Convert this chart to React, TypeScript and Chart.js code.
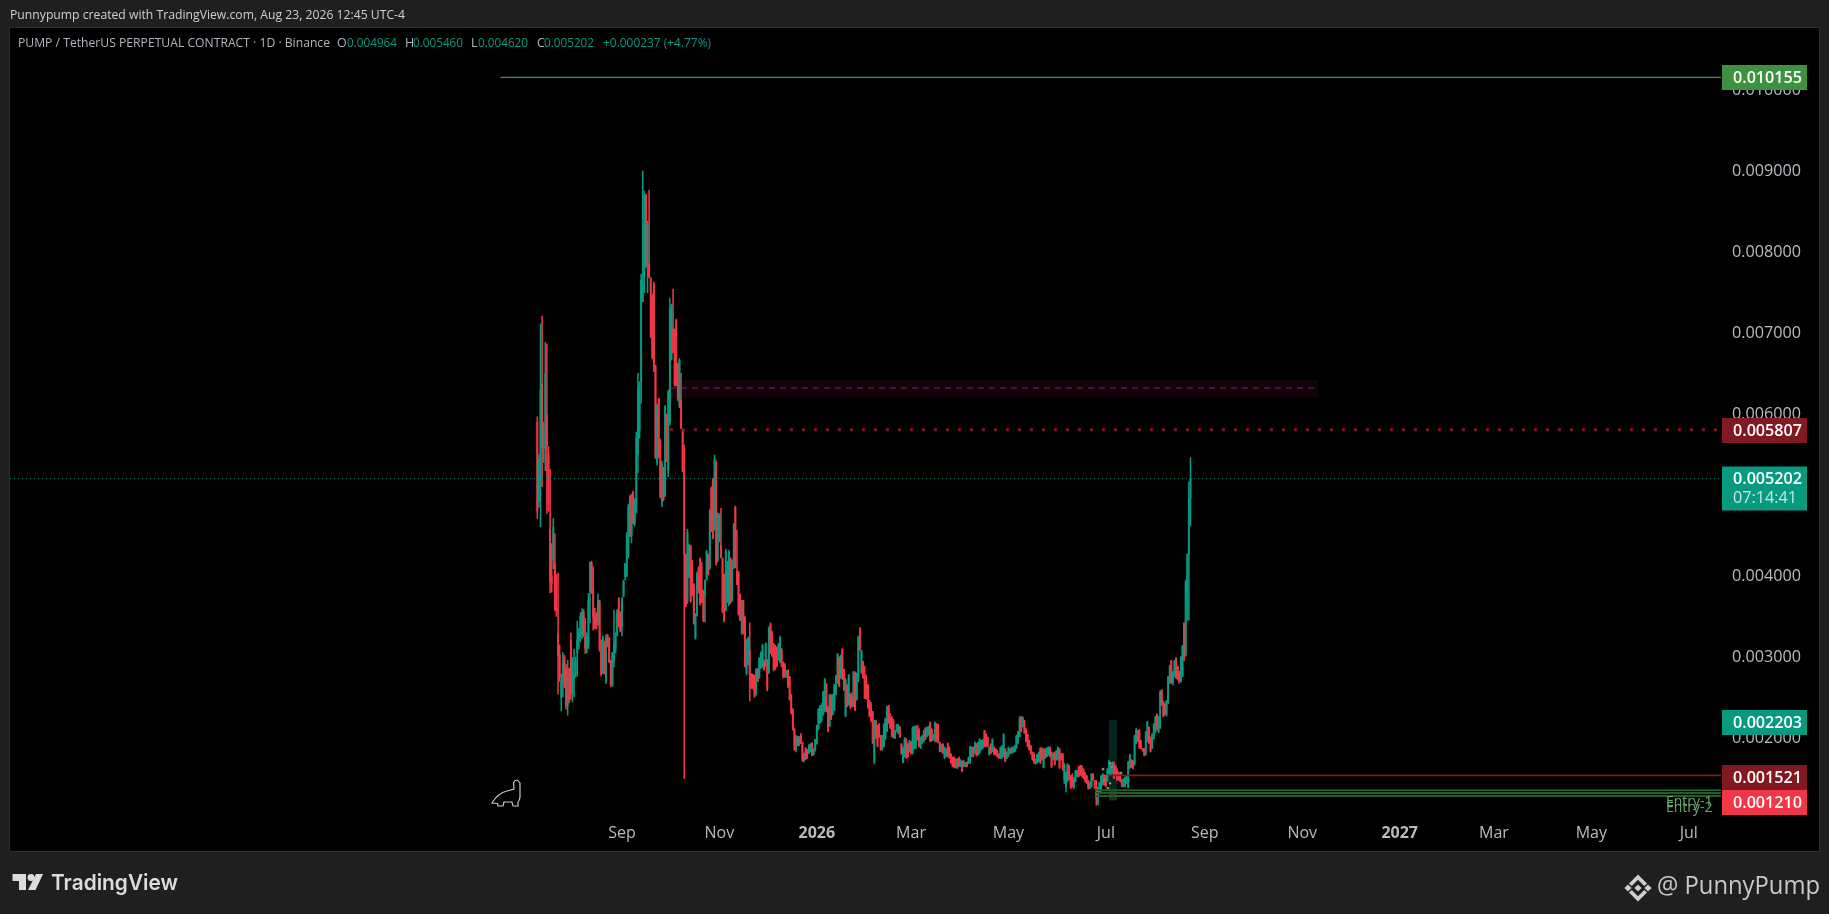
import React, { useEffect, useRef } from "react";
import Chart from "chart.js/auto";

// Prices below are in millionths of USDT.
const MICRO = 1e-6;
const FIRST_DAY = -53; // candles start 53 days before 1 Sep 2025

const opens = [
  5900,4916,5100,6370,5583,5600,5987,5500,4579,4000, 4200,4155,3600,3282,3020,2500,2700,3000,2850,2400,
  2850,3200,2550,2730,2796,3051,3214,3250,3280,3550, 3249,3105,3150,3817,4150,3846,3490,3540,3400,3690,
  3190,2800,3190,2700,3270,3230,2950,2660,2960,3100, 3270,3720,3540,3384,3750,3990,4000,4250,4980,4500,
  5030,4650,4800,5500,5793,6400,7386,7700,8700,7830, 7852,7670,7450,7600,6590,5400,6180,5670,4900,5330,
  5000,5980,5300,5900,6680,7049,7040,7150,6610,6100, 6172,5810,5300,4250,3700,4000,4370,4180,3890,3240,
  3520,4100,4210,3838,3810,3764,3960,4260,4100,5080, 5190,4600,5400,4200,4440,4381,4210,4010,3580,3690,
  3650,4210,3700,4110,4850,4060,4040,3760,3300,3690, 3490,2800,2920,3080,2790,2780,2760,2550,2850,2750,
  2870,2880,2950,2890,2950,2810,3400,3300,3150,3130, 3110,2970,2940,3090,2930,2900,2760,2830,2750,2530,
  2350,2110,1845,2010,1910,2040,1945,1715,1870,1850, 1820,1840,1930,1795,1850,1935,2115,2190,2220,2300,
  2340,2660,2380,2150,2520,2300,2350,2540,2690,2990, 2750,3090,2840,2280,2650,2420,2540,2500,2400,2800,
  2480,2710,3350,2810,2940,2747,2700,2650,2455,2400, 2320,1700,2210,2150,2170,2025,1870,1900,2000,2090,
  2395,2290,2250,2200,2000,2085,2060,2135,1925,1700, 1780,1980,1930,1840,1950,1820,1880,1890,2145,2100,
  1880,1940,1960,2120,2020,2040,2190,2090,1980,1970, 2170,2160,1940,1840,1920,1760,1780,1930,1880,1800,
  1760,1755,1740,1635,1755,1650,1700,1650,1650,1700, 1690,1690,1775,1880,1820,1920,1800,1825,1860,1890,
  2090,2045,2000,1800,1920,1840,1880,1860,1840,1800, 1760,1770,1790,1860,1760,1780,1860,1820,1830,1840,
  1880,1940,2020,2260,2140,2210,2110,2040,1970,1900, 1820,1805,1690,1695,1715,1870,1860,1640,1855,1770,
  1800,1880,1820,1740,1810,1740,1740,1860,1800,1800, 1480,1400,1475,1660,1530,1540,1395,1470,1530,1640,
  1650,1640,1610,1570,1530,1465,1380,1410,1550,1470, 1314,1190,1360,1360,1430,1540,1530,1470,1550,1550,
  1570,1695,1655,1610,1570,1550,1470,1405,1405,1440, 1390,1640,1720,1710,1680,1940,2090,2090,1960,1868,
  1865,1800,1960,2130,2010,1880,1995,2075,2290,2080, 2125,2590,2450,2420,2290,2440,2690,2950,2690,2770,
  2980,2880,2820,2700,2760,3420,3030,3755,4270,4964,
];
const highs = [
  5966,5500,7111,7209,5900,6884,6864,5600,5320,4400, 4710,4525,4020,4035,3150,2788,3055,3022,2911,2961,
  2862,3294,2994,3097,3000,3442,3350,3549,3599,3586, 3479,3300,3784,4171,4183,4113,3600,3554,3776,3702,
  3208,3257,3199,3278,3278,3241,2961,3059,3578,3300, 3586,3735,3558,3731,3949,4155,4537,4887,4999,5011,
  5048,4957,5777,6501,6400,7728,9000,8753,8716,8383, 8765,7683,7481,7629,6604,6122,6197,5690,5418,5344,
  6106,5999,6295,7427,7357,7543,7049,7172,6625,6686, 6501,5822,5616,4270,4579,4393,4381,4196,3908,3537,
  4048,4114,4220,4167,3825,3949,4319,4270,4826,5102, 5209,5493,5419,4780,4772,4834,4225,4023,4332,4183,
  4319,4225,4204,4649,4863,4566,4060,3776,3702,3702, 3504,3220,3249,3422,2796,2790,2775,2858,2858,2994,
  3064,3158,2961,3175,2969,3372,3422,3319,3167,3146, 3126,3167,3257,3105,2940,2920,2837,2845,2763,2541,
  2364,2117,2034,2022,2020,2055,1952,1816,1882,1858, 1919,1932,1944,1870,1985,2158,2364,2405,2426,2578,
  2735,2673,2393,2541,2537,2541,2664,2776,3043,3002, 3023,3105,2850,2735,2664,2784,2549,2560,2825,2817,
  2804,3257,3364,3084,2949,2887,2780,2664,2467,2440, 2331,2220,2220,2158,2179,2035,2035,2179,2250,2393,
  2405,2302,2261,2230,2096,2171,2171,2146,1932,1891, 2006,1993,1932,1973,1960,2138,2146,2146,2158,2117,
  2014,2034,2096,2129,2138,2146,2199,2117,2047,2199, 2179,2170,1952,1923,1932,1891,1870,1940,1891,1808,
  1767,1767,1746,1746,1767,1734,1718,1726,1697,1705, 1767,1899,1891,1891,1952,1932,1952,1993,1973,1981,
  2096,2055,2014,1891,1932,1993,1891,1870,1849,1808, 1891,1911,2055,1870,1829,1891,1870,1891,1891,1911,
  2035,2084,2261,2269,2261,2220,2117,2047,1973,1911, 1829,1816,1746,1800,1829,1882,1882,1870,1870,1882,
  1891,1891,1829,1816,1829,1849,1891,1870,1810,1808, 1685,1582,1685,1664,1540,1561,1512,1602,1602,1652,
  1664,1664,1623,1577,1540,1479,1458,1561,1561,1478, 1478,1396,1458,1540,1561,1549,1540,1623,1726,1684,
  1705,1705,1664,1623,1582,1561,1487,1499,1520,1540, 1713,1800,1738,1726,2034,2121,2096,2109,1973,1870,
  1870,2084,2208,2137,2014,2055,2179,2269,2302,2269, 2582,2598,2454,2425,2467,2763,2899,2961,2825,2961,
  2994,2887,2825,3010,3146,3422,3949,4270,5163,5460,
];
const lows = [
  4710,4850,4607,5102,5400,5299,4772,4800,3792,3800, 4089,3578,3500,2541,2700,2335,2508,2619,2355,2281,
  2434,2479,2446,2508,2750,2763,3100,3187,3228,3249, 3043,3050,3105,3422,3784,3331,3350,3344,3393,3072,
  2763,2796,2788,2672,3125,2928,2631,2640,2878,3050, 3257,3372,3311,3261,3743,3950,3990,4225,4484,4410,
  4640,4616,4780,5274,5700,6130,7386,7497,7806,7497, 7683,6942,6678,6522,5451,5369,5460,4965,4854,4928,
  4978,5410,5225,5863,6666,6756,6345,6345,6160,6077, 5822,5287,1500,3619,3661,3978,3677,3755,3405,3220,
  3504,3792,3640,3673,3434,3434,3949,4011,4081,4546, 4455,4566,4134,4175,4422,4225,3545,3434,3566,3673,
  3632,3661,3689,4093,4101,3895,3517,3447,3278,3282, 2878,2776,2899,2459,2611,2600,2500,2529,2693,2734,
  2858,2870,2837,2878,2582,2796,3043,3002,2829,2845, 2878,2961,2928,2878,2742,2745,2747,2623,2467,2294,
  2096,1849,1829,1903,1903,1931,1713,1705,1734,1745, 1808,1829,1779,1787,1837,1923,2104,2179,2199,2282,
  2323,2323,2076,2138,2228,2282,2335,2529,2673,2632, 2734,2722,2582,2261,2385,2405,2364,2380,2385,2335,
  2467,2693,3076,2796,2735,2487,2480,2364,2261,2200, 1932,1685,1993,1891,2006,1849,1849,1890,1980,2076,
  2179,2117,2014,2000,1993,2076,2055,2006,1800,1693, 1767,1746,1760,1829,1800,1800,1870,1870,1973,1890,
  1870,1932,1952,1981,2014,2034,1952,1960,1973,1952, 1952,1940,1829,1829,1808,1746,1767,1767,1750,1685,
  1644,1631,1631,1623,1644,1645,1582,1644,1644,1644, 1685,1685,1767,1767,1808,1775,1788,1808,1849,1870,
  1890,1890,1890,1788,1808,1829,1788,1790,1767,1746, 1746,1746,1767,1705,1746,1767,1808,1808,1816,1829,
  1870,1932,2014,2076,2138,2055,1952,1890,1849,1800, 1726,1685,1676,1685,1705,1685,1726,1631,1746,1767,
  1788,1767,1635,1726,1664,1726,1726,1623,1726,1602, 1438,1335,1458,1480,1376,1397,1376,1458,1520,1520,
  1540,1520,1499,1458,1437,1367,1376,1396,1478,1376, 1170,1170,1335,1335,1417,1417,1396,1458,1540,1540,
  1561,1499,1540,1478,1478,1458,1396,1396,1396,1437, 1384,1623,1635,1620,1664,1931,1955,1870,1870,1836,
  1779,1787,1952,1931,1829,1870,1985,2063,2096,2063, 2117,2405,2261,2282,2269,2425,2673,2673,2652,2755,
  2734,2714,2673,2693,2755,2953,3010,3455,3455,4620,
];
const closes = [
  4800,5443,6300,5583,5800,6500,5616,4900,3928,3900, 4600,3578,3550,3022,2750,2700,2950,2650,2400,2800,
  2450,2550,2950,2796,2950,3214,3300,3500,3550,3280, 3105,3250,3700,4171,3800,3488,3400,3360,3700,3100,
  2790,3240,2800,3250,3130,2940,2660,3050,3166,3250, 3570,3380,3320,3731,3930,4155,4500,4850,4500,4950,
  4650,4930,5700,6300,6378,7650,7728,8700,7830,8350, 7683,6960,6700,6560,5470,6100,5470,4980,5380,4940,
  6080,5420,6270,7300,7340,6756,6360,6360,6180,6660, 5822,5300,4270,3640,4540,4380,3690,3770,3420,3520,
  4030,3800,3650,3673,3450,3949,4300,4020,4800,4560, 4470,5450,4150,4750,4760,4225,3560,3450,4300,4170,
  4300,3680,4190,4630,4120,3895,3530,3460,3690,3300, 2890,3200,3230,2780,2620,2620,2520,2840,2700,2980,
  3050,3140,2850,3160,2600,3350,3060,3020,2840,2860, 2890,3150,3240,2890,2760,2780,2830,2640,2480,2310,
  2110,1860,2020,1910,2005,1940,1725,1805,1745,1760, 1905,1920,1790,1860,1975,2150,2350,2390,2320,2560,
  2720,2340,2090,2530,2240,2520,2650,2760,3030,2650, 3010,2735,2600,2720,2400,2770,2380,2400,2810,2350,
  2790,3240,3090,3070,2750,2487,2500,2380,2275,2220, 1945,2200,2005,1900,2015,1860,2020,2165,2230,2380,
  2190,2130,2025,2010,2085,2160,2150,2015,1810,1880, 1995,1760,1770,1960,1820,2120,2130,2050,1985,1900,
  2000,2020,2080,1990,2125,2135,1965,1975,2040,2185, 1965,1950,1840,1915,1815,1880,1860,1780,1765,1695,
  1655,1640,1645,1735,1655,1725,1595,1715,1690,1655, 1755,1880,1880,1775,1940,1785,1940,1980,1960,1970,
  1900,1900,1905,1880,1820,1980,1800,1800,1775,1755, 1880,1890,2040,1715,1820,1880,1815,1880,1880,1900,
  2020,2070,2240,2090,2250,2070,1965,1905,1860,1815, 1740,1695,1735,1790,1820,1700,1740,1860,1755,1870,
  1880,1780,1650,1805,1680,1835,1880,1640,1740,1615, 1670,1570,1670,1495,1390,1410,1500,1590,1590,1530,
  1555,1535,1510,1470,1450,1380,1450,1550,1490,1390, 1252,1380,1440,1525,1550,1430,1410,1610,1715,1670,
  1695,1510,1550,1490,1490,1470,1405,1490,1510,1530, 1700,1785,1645,1640,2020,2100,1965,1880,1875,1845,
  1790,2070,2195,1945,1840,2040,2165,2255,2110,2255, 2570,2420,2270,2290,2450,2750,2885,2690,2810,2950,
  2745,2725,2690,2995,3130,2970,3930,4270,4964,5202,
];

// Axes
const priceTicks = [0.002, 0.003, 0.004, 0.005, 0.006, 0.007, 0.008, 0.009, 0.01];
const monthTickDays = [0, 61, 122, 181, 242, 303, 365, 426, 487, 546, 607, 668];
const monthTickLabels = ["Sep", "Nov", "2026", "Mar", "May", "Jul", "Sep", "Nov", "2027", "Mar", "May", "Jul"];
const X_MIN = -383.2;
const X_MAX = 688.2;
const Y_MIN = 0.000988;
const Y_MAX = 0.010765;

// Price levels drawn on the chart: [price, firstDay, lastDay]
const targetLevel = [0.010155, -76, X_MAX];
const lastPriceLevel = [0.005202, X_MIN, X_MAX];
const dottedResistance = [0.005807, 30, X_MAX];
const dashedZoneMid = [0.00632, 30, 436];
const zoneBand = [0.00642, 0.00621, 31, 436];
const stopLevel = [0.00154, 304, X_MAX];
const entryLevels = [0.001358, 0.001321, 0.001284];
const ENTRY_FIRST_DAY = 296;
const positionBox = [0.00222, 0.00135, 305, 310];
const positionBoxLower = [0.00135, 0.00123, 305, 310];
const purpleTick = [0.00132, 299, 303];
const markerDays = [301.2, 305.6, 306.8, 312.5, 305.6, 304.3, 301.8];
const markerPrices = [0.001615, 0.001689, 0.00164, 0.001565, 0.001441, 0.00138, 0.001479];

// Price tags on the axis
const tagPrices = [0.010155, 0.005807, 0.002203, 0.001521, 0.00121];
const tagColors = ["#3d923f", "#801922", "#089981", "#801922", "#f23645"];
const LAST_PRICE = 0.005202;
const COUNTDOWN = "07:14:41";

const UP = "#089981";
const DOWN = "#f23645";
const FONT = '"Open Sans", "Noto Sans", sans-serif';

const hLine = (lvl: number[], color: string, width: number, dash: number[], order = 1) => ({
  type: "line" as const,
  data: [{ x: lvl[1], y: lvl[0] }, { x: lvl[2], y: lvl[0] }],
  borderColor: color,
  borderWidth: width,
  borderDash: dash,
  pointRadius: 0,
  fill: false,
  order,
});

const bandFill = (top: number, bottom: number, from: number, to: number, color: string, order = 9) => ({
  type: "line" as const,
  data: [{ x: from, y: top }, { x: to, y: top }],
  borderWidth: 0,
  pointRadius: 0,
  fill: { value: bottom },
  backgroundColor: color,
  order,
});

const chrome = {
  id: "chrome",
  beforeDraw(chart: any) {
    const { ctx, width, height } = chart;
    ctx.save();
    ctx.fillStyle = "#1f1f1f";
    ctx.fillRect(0, 0, width, height);
    ctx.fillStyle = "#000000";
    ctx.fillRect(10, 28, 1809, 823);
    ctx.strokeStyle = "#2e2e2e";
    ctx.lineWidth = 1;
    ctx.strokeRect(9.5, 27.5, 1810, 824);
    ctx.restore();
  },
  afterDraw(chart: any) {
    const { ctx } = chart;
    const yS = chart.scales.y;
    ctx.save();
    ctx.textBaseline = "middle";
    ctx.textAlign = "left";

    // header
    ctx.font = `12.5px ${FONT}`;
    ctx.fillStyle = "#cfcfcf";
    ctx.fillText("Punnypump created with TradingView.com, Aug 23, 2026 12:45 UTC-4", 10, 15, 395);

    // legend
    ctx.fillStyle = "#b2b5be";
    ctx.fillText("PUMP / TetherUS PERPETUAL CONTRACT · 1D · Binance", 18, 43.5, 312);
    ctx.fillText("O", 337, 43.5);
    ctx.fillText("H", 405, 43.5);
    ctx.fillText("L", 471, 43.5);
    ctx.fillText("C", 537, 43.5);
    ctx.fillStyle = UP;
    ctx.fillText("0.004964", 347, 43.5, 50);
    ctx.fillText("0.005460", 413, 43.5, 50);
    ctx.fillText("0.004620", 478, 43.5, 50);
    ctx.fillText("0.005202", 544, 43.5, 50);
    ctx.fillText("+0.000237 (+4.77%)", 603, 43.5, 108);

    // axis tags
    const tag = (p: number, color: string) => {
      const y = yS.getPixelForValue(p);
      ctx.fillStyle = color;
      ctx.fillRect(1722, Math.round(y) - 12, 85, 25);
      ctx.font = `600 16.6px ${FONT}`;
      ctx.fillStyle = "#ffffff";
      ctx.fillText(p.toFixed(6), 1733, y + 1.2, 69);
    };
    const ly = yS.getPixelForValue(LAST_PRICE);
    ctx.fillStyle = UP;
    ctx.fillRect(1722, Math.round(ly) - 12.5, 85, 44);
    ctx.font = `600 16.6px ${FONT}`;
    ctx.fillStyle = "#ffffff";
    ctx.fillText(LAST_PRICE.toFixed(6), 1733, ly + 0.5, 69);
    ctx.font = `500 16.2px ${FONT}`;
    ctx.fillStyle = "#c4e8e0";
    ctx.fillText(COUNTDOWN, 1733, ly + 20, 65);
    tagPrices.forEach((p, i) => tag(p, tagColors[i]));

    // entry labels
    ctx.font = `14px ${FONT}`;
    ctx.fillStyle = "#6aa86e";
    ctx.fillText("Entry-1", 1666, 802, 47);
    ctx.fillText("Entry-2", 1666, 808, 47);

    // dinosaur
    ctx.strokeStyle = "#c8c8c8";
    ctx.lineWidth = 1.2;
    ctx.beginPath();
    ctx.moveTo(492, 803);
    ctx.quadraticCurveTo(498, 793, 507, 791);
    ctx.lineTo(514, 789);
    ctx.lineTo(513.5, 783);
    ctx.quadraticCurveTo(516, 777, 520, 783);
    ctx.lineTo(520, 797);
    ctx.quadraticCurveTo(519.5, 801, 518, 802);
    ctx.lineTo(518, 806);
    ctx.lineTo(513, 806);
    ctx.lineTo(512, 802);
    ctx.lineTo(504, 802);
    ctx.lineTo(503, 806);
    ctx.lineTo(498, 806);
    ctx.lineTo(497.5, 803.5);
    ctx.closePath();
    ctx.stroke();

    // TradingView logo
    ctx.fillStyle = "#dcdcdc";
    ctx.beginPath();
    ctx.moveTo(12.5, 874);
    ctx.lineTo(26, 874);
    ctx.lineTo(26, 890);
    ctx.lineTo(19, 890);
    ctx.lineTo(19, 881);
    ctx.lineTo(12.5, 881);
    ctx.closePath();
    ctx.fill();
    ctx.beginPath();
    ctx.arc(31, 877.6, 3.5, 0, Math.PI * 2);
    ctx.fill();
    ctx.beginPath();
    ctx.moveTo(36, 874);
    ctx.lineTo(43, 874);
    ctx.lineTo(35.5, 890);
    ctx.lineTo(28, 890);
    ctx.closePath();
    ctx.fill();
    ctx.font = `600 22px Inter, ${FONT}`;
    ctx.fillText("TradingView", 51, 883, 127);

    // Binance mark and handle
    const diamond = (cx: number, cy: number, r: number) => {
      ctx.beginPath();
      ctx.moveTo(cx, cy - r);
      ctx.lineTo(cx + r, cy);
      ctx.lineTo(cx, cy + r);
      ctx.lineTo(cx - r, cy);
      ctx.closePath();
      ctx.fill();
    };
    const chevron = (cx: number, cy: number, dir: number) => {
      ctx.beginPath();
      ctx.moveTo(cx - 9, cy - dir * 5);
      ctx.lineTo(cx, cy - dir * 14);
      ctx.lineTo(cx + 9, cy - dir * 5);
      ctx.lineTo(cx + 6.2, cy - dir * 2.6);
      ctx.lineTo(cx, cy - dir * 8.8);
      ctx.lineTo(cx - 6.2, cy - dir * 2.6);
      ctx.closePath();
      ctx.fill();
    };
    ctx.fillStyle = "#cfcfcf";
    diamond(1638, 888, 3.6);
    diamond(1628, 888, 3.6);
    diamond(1648, 888, 3.6);
    chevron(1638, 888.5, 1);
    chevron(1638, 887.5, -1);
    ctx.font = `25px ${FONT}`;
    ctx.fillStyle = "#c9c9c9";
    ctx.fillText("@ PunnyPump", 1657, 887, 163);
    ctx.restore();
  },
};

export default function App() {
  const ref = useRef<HTMLCanvasElement | null>(null);
  useEffect(() => {
    document.body.style.margin = "0";
    document.body.style.background = "#1f1f1f";
    if (!ref.current) return;
    const dayOf = (i: number) => FIRST_DAY + i;
    const colors = opens.map((o, i) => (closes[i] >= o ? UP : DOWN));
    const chart = new Chart(ref.current, {
      type: "bar",
      data: {
        datasets: [
          hLine(targetLevel, "#3d923f", 1.4, []),
          hLine(lastPriceLevel, UP, 1, [1, 3]),
          hLine(dottedResistance, "#801922", 3, [3, 9]),
          hLine(dashedZoneMid, "#94258f", 0.9, [6, 5]),
          hLine(stopLevel, "#801922", 1.8, []),
          ...entryLevels.map((p) => hLine([p, ENTRY_FIRST_DAY, X_MAX], "#1d5f24", 1.8, [])),
          hLine(purpleTick, "#8e24aa", 1, []),
          {
            type: "scatter" as const,
            data: markerDays.map((x, i) => ({ x, y: markerPrices[i] })),
            backgroundColor: "#8c8c8c",
            pointRadius: 1.4,
            showLine: false,
            order: 2,
          },
          {
            type: "bar" as const,
            data: opens.map((o, i) => ({
              x: dayOf(i),
              y: [Math.min(o, closes[i]) * MICRO, Math.max(o, closes[i]) * MICRO],
            })),
            backgroundColor: colors,
            barThickness: 1.3,
            grouped: false,
            order: 4,
          },
          {
            type: "bar" as const,
            data: highs.map((h, i) => ({ x: dayOf(i), y: [lows[i] * MICRO, h * MICRO] })),
            backgroundColor: colors,
            barThickness: 0.9,
            grouped: false,
            order: 5,
          },
          bandFill(zoneBand[0], zoneBand[1], zoneBand[2], zoneBand[3], "#120308"),
          bandFill(positionBox[0], positionBox[1], positionBox[2], positionBox[3], "#04241e"),
          bandFill(positionBoxLower[0], positionBoxLower[1], positionBoxLower[2], positionBoxLower[3], "#2b2b2b"),
        ],
      } as any,
      plugins: [chrome],
      options: {
        animation: false,
        responsive: false,
        events: [],
        layout: { padding: { left: 10, top: 28, right: 10, bottom: 64 } },
        plugins: { legend: { display: false }, tooltip: { enabled: false }, title: { display: false } },
        scales: {
          x: {
            type: "linear",
            min: X_MIN,
            max: X_MAX,
            offset: false,
            grid: { display: false, drawTicks: false },
            border: { display: false },
            afterFit(scale: any) {
              scale.height = 30;
            },
            afterBuildTicks(scale: any) {
              scale.ticks = monthTickDays.map((value) => ({ value }));
            },
            ticks: {
              autoSkip: false,
              maxRotation: 0,
              padding: 4,
              color: "#b8bbc2",
              font: (c: any) => ({
                family: FONT,
                size: 16,
                weight: /^20/.test(String(c.tick?.label)) ? "700" : "500",
              }),
              callback: (v: any) => monthTickLabels[monthTickDays.indexOf(Number(v))] ?? "",
            },
          },
          y: {
            type: "linear",
            position: "right",
            min: Y_MIN,
            max: Y_MAX,
            grid: { display: false, drawTicks: false },
            border: { display: false },
            afterFit(scale: any) {
              scale.width = 98;
            },
            afterBuildTicks(scale: any) {
              scale.ticks = priceTicks.map((value) => ({ value }));
            },
            ticks: {
              padding: 11,
              color: "#b8bbc2",
              font: { family: FONT, size: 16.2, weight: "500" },
              callback: (v: any) => Number(v).toFixed(6),
            },
          },
        },
      },
    } as any);
    return () => chart.destroy();
  }, []);
  return <canvas ref={ref} width={1829} height={914} style={{ display: "block" }} />;
}
